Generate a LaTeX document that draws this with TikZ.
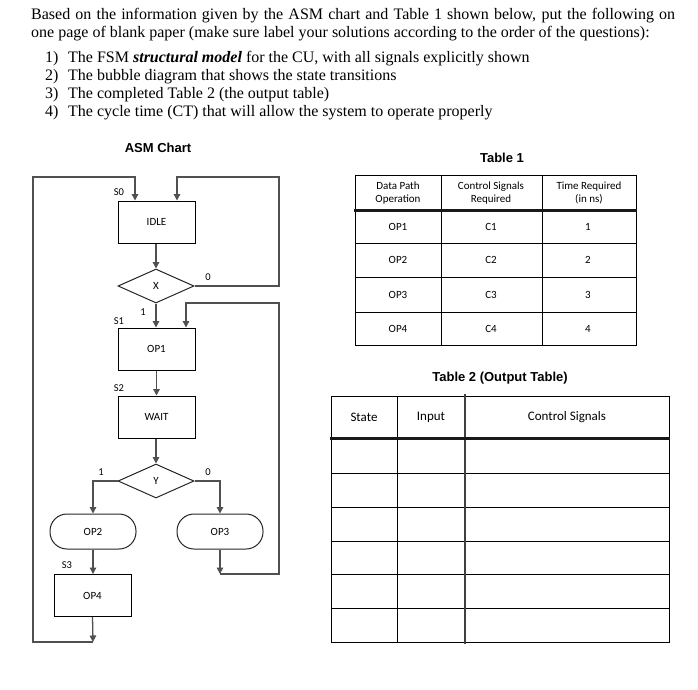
\documentclass[tikz,border=0pt]{standalone}
\usepackage{fontspec}
\setmainfont{Liberation Serif}
\newfontfamily\calib{Carlito}
\newfontfamily\arialf{Liberation Sans}
\usetikzlibrary{arrows.meta,shapes.geometric}
\definecolor{lnk}{HTML}{505050}
\begin{document}
\begin{tikzpicture}[x=1pt,y=-1pt,
  body/.style={anchor=base west,inner sep=0,font=\fontsize{16}{19}\selectfont},
  ttl/.style={inner sep=0,font=\arialf\bfseries\fontsize{13}{15}\selectfont},
  box/.style={draw=black,line width=1pt,minimum width=77pt,minimum height=42pt,inner sep=0,font=\calib\fontsize{11}{12}\selectfont},
  dec/.style={diamond,draw=black!85,line width=1pt,minimum width=76pt,minimum height=34pt,inner sep=0,font=\calib\fontsize{11}{12}\selectfont},
  cnd/.style={draw=black!85,line width=1pt,rounded corners=17pt,minimum width=86pt,minimum height=35pt,inner sep=0,font=\calib\fontsize{11}{12}\selectfont},
  conn/.style={draw=lnk,line width=1.3pt},
  tip/.style={-{Triangle[length=6.5pt,width=6.5pt]}},
  lbl/.style={inner sep=0,font=\calib\fontsize{10.5}{12}\selectfont},
  tcell/.style={inner sep=0,align=center,font=\calib\fontsize{11}{13.5}\selectfont},
  tcellb/.style={inner sep=0,align=center,font=\calib\fontsize{13}{14}\selectfont},
  tline/.style={draw=black,line width=1pt},
  thick line/.style={draw=black!90,line width=3pt}
]
\useasboundingbox (0,0) rectangle (698,689);
\fill[white] (0,0) rectangle (698,689);

% ---- question text ----
\node[body] (t1) at (31,19) {\makebox[644pt][s]{Based on the information given by the ASM chart and Table 1 shown below, put the following on}};
\node[body] (t2) at (31,37.5) {one page of blank paper (make sure label your solutions according to the order of the questions):};
\node[body] (n1) at (45,62) {1)};
\node[body] (q1) at (68,62) {The FSM \textbf{\textit{structural model}} for the CU, with all signals explicitly shown};
\node[body] (n2) at (45,80) {2)};
\node[body] (q2) at (68,80) {The bubble diagram that shows the state transitions};
\node[body] (n3) at (45,98) {3)};
\node[body] (q3) at (68,98) {The completed Table 2 (the output table)};
\node[body] (n4) at (45,116) {4)};
\node[body] (q4) at (68,116) {The cycle time (CT) that will allow the system to operate properly};

% ---- ASM chart ----
\node[ttl] (asm) at (158,148) {ASM Chart};
\node[box] (idle) at (156.5,222) {IDLE};
\node[dec] (dx) at (156,286) {X};
\node[box] (op1) at (156.5,349) {OP1};
\node[box] (wait) at (156.5,417) {WAIT};
\node[dec] (dy) at (156,481) {Y};
\node[cnd] (op2) at (93,531.5) {OP2};
\node[cnd] (op3) at (220,531.5) {OP3};
\node[box] (op4) at (92.5,595.5) {OP4};

\node[lbl] (s0) at (119,192) {S0};
\node[lbl] (s1) at (119,321) {S1};
\node[lbl] (s2) at (119,388) {S2};
\node[lbl] (s3) at (67,565) {S3};
\node[lbl] (x0) at (208,277) {0};
\node[lbl] (x1) at (143,312) {1};
\node[lbl] (y1) at (101,472) {1};
\node[lbl] (y0) at (208,472) {0};

\coordinate (a1) at (93,642);
\coordinate (a2) at (33,642);
\coordinate (a3) at (33,177);
\coordinate (a4) at (135,177);
\coordinate (b1) at (279,286);
\coordinate (b2) at (279,177);
\coordinate (b3) at (177,177);
\coordinate (c1) at (220,574);
\coordinate (c2) at (279,574);
\coordinate (c3) at (279,303);
\coordinate (c4) at (186,303);
\coordinate (d1) at (93,481);
\coordinate (d2) at (220,481);

\draw[conn,tip] (idle.south -| dx.north) -- (dx.north);
\draw[conn,tip] (dx.south) -- (dx.south |- op1.north);
\draw[conn,tip] (op1.south -| wait.north) -- (wait.north);
\draw[conn,tip] (wait.south -| dy.north) -- (dy.north);
\draw[conn,tip] (dy.west) -- (d1) -- (op2.north);
\draw[conn,tip] (dy.east) -- (d2) -- (op3.north);
\draw[conn,tip] (op2.south) -- (op2.south |- op4.north);
\draw[conn,tip] (op4.south) -- (a1);
\draw[conn,tip] (a1) -- (a2) -- (a3) -- (a4) -- (a4 |- idle.north);
\draw[conn,tip] (dx.east) -- (b1) -- (b2) -- (b3) -- (b3 |- idle.north);
\draw[conn,tip] (op3.south) -- (c1);
\draw[conn,tip] (c1) -- (c2) -- (c3) -- (c4) -- (c4 |- op1.north);

% ---- Table 1 ----
\node[ttl] (tab1) at (502,158) {Table 1};
\draw[tline] (355,175) rectangle (636,345);
\foreach \yy in {243,277,312} \draw[tline] (355,\yy) -- (636,\yy);
\foreach \xx in {441,542} \draw[tline] (\xx,175) -- (\xx,345);
\draw[thick line] (354,210) -- (637,210);
\node[tcell] (h1) at (398,193) {Data Path\\Operation};
\node[tcell] (h2) at (491,193) {Control Signals\\Required};
\node[tcell] (h3) at (589,193) {Time Required\\(in ns)};
\node[tcell] (r1a) at (398,226.5) {OP1};
\node[tcell] (r1b) at (491,226.5) {C1};
\node[tcell] (r1c) at (588,226.5) {1};
\node[tcell] (r2a) at (398,260) {OP2};
\node[tcell] (r2b) at (491,260) {C2};
\node[tcell] (r2c) at (588,260) {2};
\node[tcell] (r3a) at (398,294.5) {OP3};
\node[tcell] (r3b) at (491,294.5) {C3};
\node[tcell] (r3c) at (588,294.5) {3};
\node[tcell] (r4a) at (398,328.5) {OP4};
\node[tcell] (r4b) at (491,328.5) {C4};
\node[tcell] (r4c) at (588,328.5) {4};

% ---- Table 2 ----
\node[ttl] (tab2) at (500,378) {Table 2 (Output Table)};
\draw[tline] (331,396) rectangle (669,642);
\foreach \yy in {473,507,541,574,608} \draw[tline] (331,\yy) -- (669,\yy);
\draw[tline] (397,396) -- (397,642);
\draw[draw=black!75,line width=2.2pt] (465,394) -- (465,644);
\draw[thick line] (330,438) -- (670,438);
\node[tcellb] (g1) at (364,417) {State};
\node[tcellb] (g2) at (431,417) {Input};
\node[tcellb] (g3) at (567,417) {Control Signals};
\end{tikzpicture}
\end{document}
